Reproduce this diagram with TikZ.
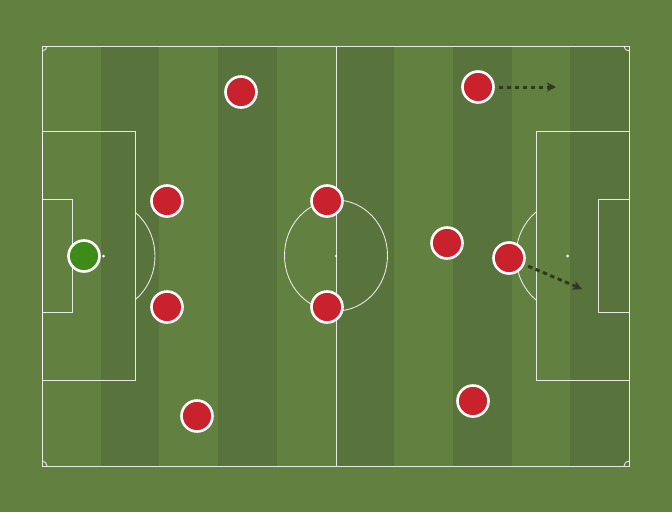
\documentclass[tikz,border=0pt]{standalone}
\usepackage{tikz}
\usetikzlibrary{arrows.meta, shadows}

\definecolor{grass}{HTML}{62803F}
\definecolor{stripe}{HTML}{58733C}
\definecolor{shirt}{HTML}{C9222D}
\definecolor{keeper}{HTML}{3D8C1A}
\definecolor{run}{HTML}{2E3B22}

\begin{document}
\begin{tikzpicture}[x=1pt, y=-1pt,
    line/.style={draw=white, opacity=0.85, line width=0.9pt},
    player/.style={circle, draw=white, line width=2.6pt, fill=shirt, minimum size=31pt, inner sep=0pt,
        drop shadow={opacity=0.25, shadow xshift=0pt, shadow yshift=-1pt}},
    runarrow/.style={draw=run, line width=3pt, dash pattern=on 4.5pt off 3.5pt, -{Stealth[length=9pt, width=9pt, inset=2.5pt]}}]
    \fill[grass] (0, 0) rectangle (672, 512);
    \useasboundingbox (0, 0) rectangle (672, 512);
    % stripes
    \foreach \i in {1, 3, 5, 7, 9}
        \fill[stripe] ({42 + \i*58.7}, 46) rectangle ({42 + (\i+1)*58.7}, 466);
    % pitch markings
    \draw[line] (42, 46) rectangle (629, 466);
    \draw[line] (336, 46) -- (336, 466);
    \draw[line] (336, 255.5) ellipse [x radius=51.5, y radius=55.5];
    \fill[white] (336, 256) circle [radius=1.2];
    \draw[line] (42, 131) rectangle (135.5, 380);
    \draw[line] (42, 199.5) rectangle (72.5, 312);
    \draw[line] (629, 131) rectangle (536, 380);
    \draw[line] (629, 199.5) rectangle (598.5, 312);
    \fill[white] (103.5, 256) circle [radius=1.5];
    \fill[white] (567.5, 256) circle [radius=1.5];
    \begin{scope}
        \clip (135.5, 150) rectangle (200, 360);
        \draw[line] (103.5, 256) ellipse [x radius=51.5, y radius=55.5];
    \end{scope}
    \begin{scope}
        \clip (536, 150) rectangle (470, 360);
        \draw[line] (567.5, 256) ellipse [x radius=51.5, y radius=55.5];
    \end{scope}
    % corners
    \draw[line] (47, 46) arc [start angle=0, end angle=90, radius=5];
    \draw[line] (47, 466) arc [start angle=0, end angle=-90, radius=5];
    \draw[line] (624, 46) arc [start angle=180, end angle=90, radius=5];
    \draw[line] (624, 466) arc [start angle=180, end angle=270, radius=5];
    % runs
    \coordinate (R1) at (556, 87);
    \coordinate (R2) at (582, 289);
    % players
    \node[player, fill=keeper] (GK) at (84, 256) {};
    \node[player] (D1) at (241, 92) {};
    \node[player] (D2) at (167, 201) {};
    \node[player] (D3) at (167, 307) {};
    \node[player] (D4) at (197, 416) {};
    \node[player] (M1) at (327, 201) {};
    \node[player] (M2) at (327, 307) {};
    \node[player] (F1) at (478, 87) {};
    \node[player] (F2) at (447, 243) {};
    \node[player] (F3) at (509, 258) {};
    \node[player] (F4) at (473, 401) {};
    \draw[runarrow, shorten <=4pt] (F1) -- (R1);
    \draw[runarrow, shorten <=4pt] (F3) -- (R2);
\end{tikzpicture}
\end{document}
